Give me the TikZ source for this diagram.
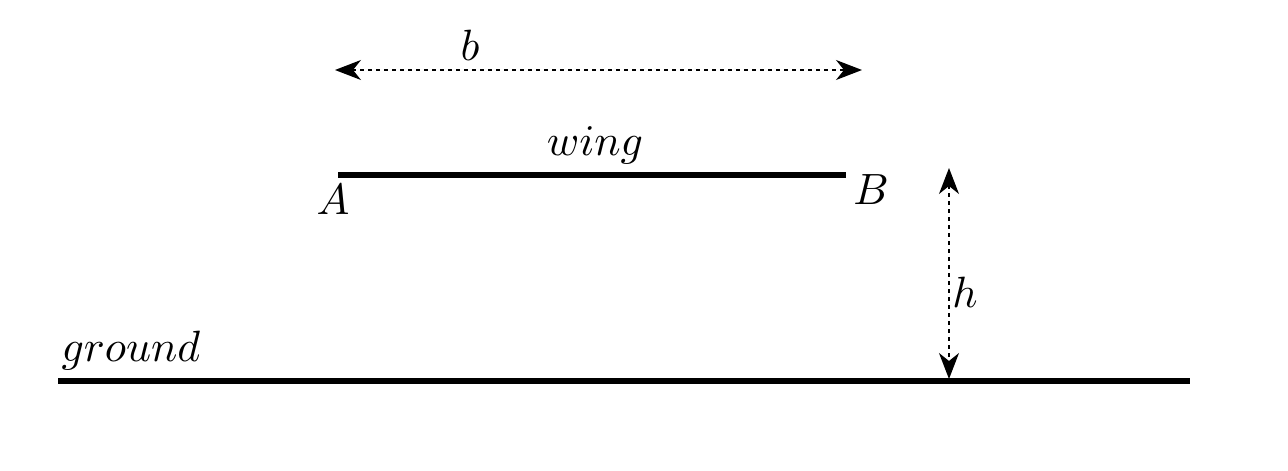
\documentclass[tikz,border=0pt]{standalone}
\usetikzlibrary{arrows.meta}
\begin{document}
\begin{tikzpicture}[x=0.25pt,y=-0.25pt,
  bar/.style={line width=1.5pt},
  dim/.style={dash pattern=on 1pt off 1pt,line width=0.4pt,{Stealth[length=6.5pt,width=5pt,inset=2pt]}-{Stealth[length=6.5pt,width=5pt,inset=2pt]}},
  lab/.style={font=\fontsize{10.5}{13}\selectfont}]
\useasboundingbox (0,0) rectangle (1288,471);
\coordinate (wA) at (338,175); \coordinate (wB) at (846,175);
\coordinate (gA) at (58,381); \coordinate (gB) at (1190,381);
\coordinate (bA) at (335,70); \coordinate (bB) at (862,70);
\coordinate (hT) at (949,168); \coordinate (hB) at (949,379);
\draw[bar] (wA) -- (wB);
\draw[bar] (gA) -- (gB);
\draw[dim] (bA) -- (bB);
\draw[dim] (hT) -- (hB);
\node[lab] (b) at (470,45) {$b$};
\node[lab] (wing) at (595,145) {$wing$};
\node[lab] (A) at (333,200) {$A$};
\node[lab] (B) at (871,190) {$B$};
\node[lab] (h) at (965,292) {$h$};
\node[lab] (g) at (131,351) {$ground$};
\end{tikzpicture}
\end{document}
